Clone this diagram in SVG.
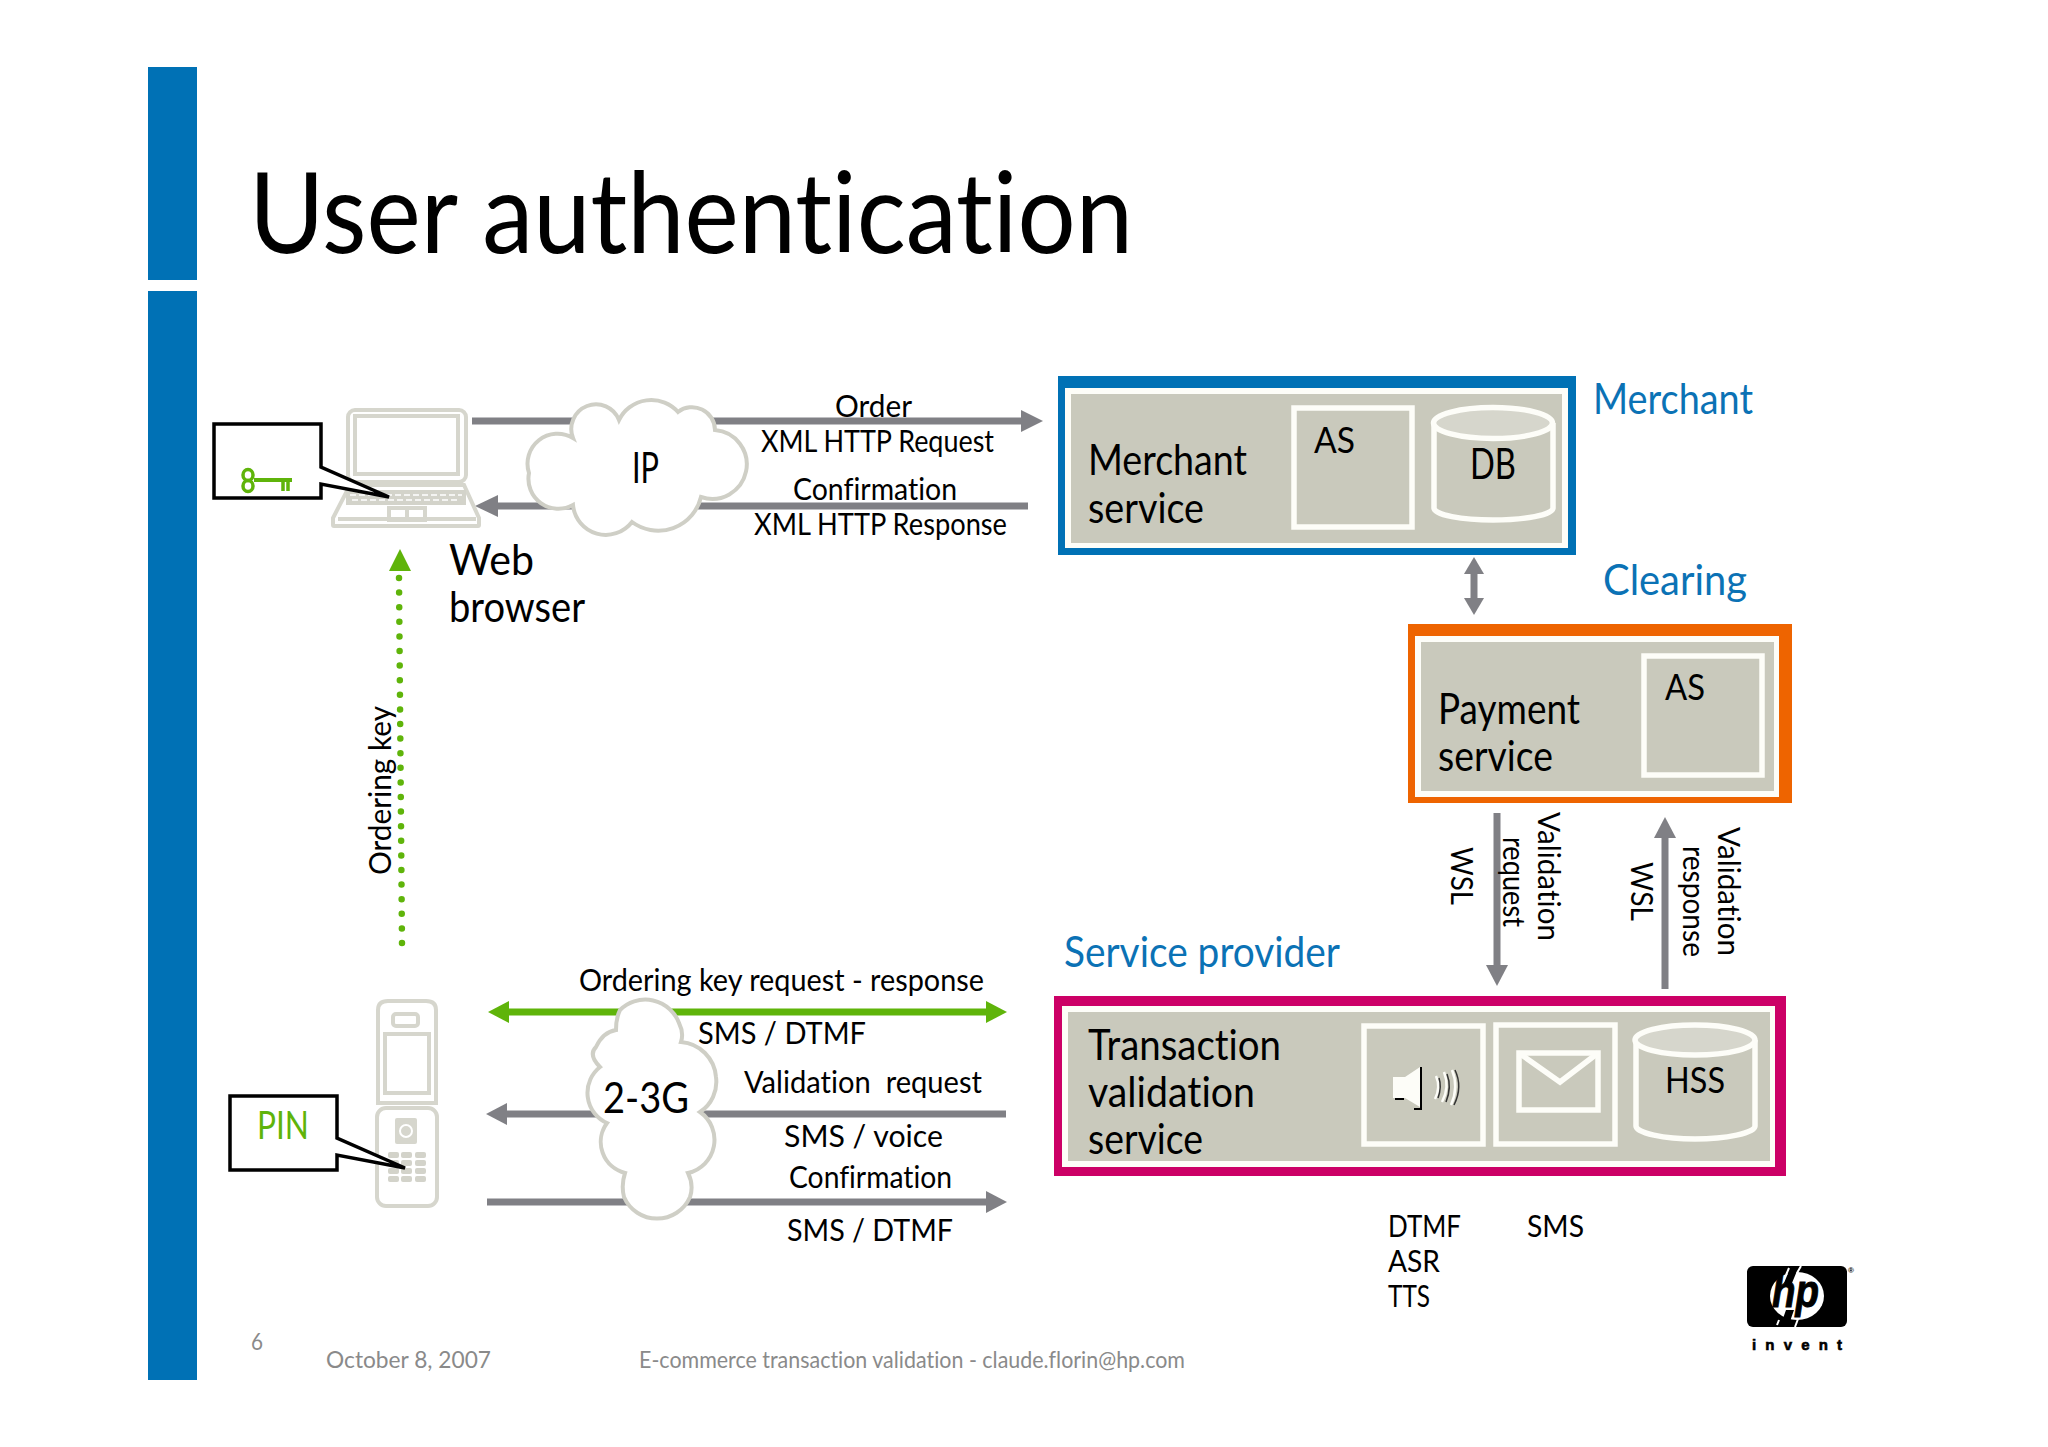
<svg xmlns="http://www.w3.org/2000/svg" width="2048" height="1447" viewBox="0 0 2048 1447">
<style>
text{font-family:"Lato","Liberation Sans",sans-serif;fill:#000;font-weight:400;font-variant-ligatures:none}
.l{font-size:31px}.m{font-size:42px}.s{font-size:36px}
.b{fill:#0b72b5;font-size:42px}
.f{fill:#8a8a8a;font-size:24px}
.g{fill:#c9c9bc}
.w{fill:none;stroke:#fdfdf8;stroke-width:5.5}
.d{fill:none;stroke:#d6d6cd;stroke-width:4}
.df{fill:#d3d3ca}
.a{fill:#808085}
.ln{stroke:#808085;stroke-width:7;fill:none}
.call{fill:#fff;stroke:#000;stroke-width:3.5}
.cloud{fill:#fff;stroke:#cfcfc6;stroke-width:4}
.logo{font-family:"Liberation Sans",sans-serif;font-weight:700}
</style>
<rect width="2048" height="1447" fill="#fff"/>
<g id="sidebar">
<rect x="148" y="67" width="49" height="213" fill="#0071b5"/>
<rect x="148" y="291" width="49" height="1089" fill="#0071b5"/>
</g>
<text id="title" x="249" y="253" font-size="112" textLength="884" lengthAdjust="spacingAndGlyphs">User authentication</text>

<g id="connectors">
<path class="ln" d="M472 421H1024"/><path class="a" d="M1043 421l-22 -11v22z"/>
<path class="ln" d="M496 506H1028"/><path class="a" d="M475 506l23 -11v22z"/>
<path d="M505 1012H990" stroke="#5fb40a" stroke-width="7" fill="none"/><path fill="#5fb40a" d="M488 1012l21 -11v22z"/><path fill="#5fb40a" d="M1007 1012l-21 -11v22z"/>
<path class="ln" d="M505 1114H1006"/><path class="a" d="M486 1114l21 -11v22z"/>
<path class="ln" d="M487 1202H988"/><path class="a" d="M1007 1202l-21 -11v22z"/>
<path d="M399 578L402 945" stroke="#5fb40a" stroke-width="6.5" stroke-linecap="round" stroke-dasharray="0 14.6" fill="none"/><path fill="#5fb40a" d="M400 549l11 22h-22z"/>
<path class="ln" d="M1474 570V602"/><path class="a" d="M1474 557l10 17h-20z"/><path class="a" d="M1474 615l10 -17h-20z"/>
<path class="ln" d="M1497 813V968"/><path class="a" d="M1497 986l11 -21h-22z"/>
<path class="ln" d="M1665 836V989"/><path class="a" d="M1665 817l11 21h-22z"/>
</g>

<g id="laptop">
<rect class="d" x="348" y="410" width="118" height="72" rx="7"/>
<rect class="d" x="355" y="416" width="103" height="58"/>
<path class="d" d="M350 485H464L479 518V525Q479 526 478 526H334Q333 526 333 525V518Z"/>
<rect class="df" x="346" y="490" width="120" height="15"/>
<path d="M350 495H462M352 500H460" stroke="#fff" stroke-width="1.500" stroke-dasharray="6 3" fill="none"/>
<rect class="d" x="389" y="508" width="36" height="12"/>
<path class="d" d="M407 508V520"/>
<path class="d" d="M338 519H476" stroke-width="2"/>
</g>
<g id="key-callout">
<path class="call" d="M214 424H321V467L389 497L321 484V498H214Z"/>
<g fill="none" stroke="#5fb40a">
<ellipse cx="248" cy="475" rx="5" ry="5.500" stroke-width="3.500"/><ellipse cx="248" cy="486" rx="5" ry="5.500" stroke-width="3.500"/>
<path d="M254 480H292" stroke-width="4"/><path d="M283 481V491M288 481V491" stroke-width="3.500"/>
</g>
</g>
<g id="ip-cloud">
<path class="cloud" d="M573 438A24 24 0 0 1 619 420A36 36 0 0 1 678 412A23 23 0 0 1 715 430A34.500 34.500 0 1 1 701 497A44 44 0 0 1 632 522A33 33 0 0 1 573 505A30 30 0 0 1 529 473A30 30 0 0 1 573 438Z"/>
<text x="632" y="483" font-size="42" textLength="27" lengthAdjust="spacingAndGlyphs">IP</text>
</g>
<g id="web-browser-label">
<text class="m" x="449" y="575" textLength="85" lengthAdjust="spacingAndGlyphs">Web</text>
<text class="m" x="449" y="622" textLength="136" lengthAdjust="spacingAndGlyphs">browser</text>
</g>
<g id="top-labels">
<text class="l" x="835" y="417" font-size="30" textLength="77" lengthAdjust="spacingAndGlyphs">Order</text>
<text class="l" x="761" y="452" textLength="233" lengthAdjust="spacingAndGlyphs">XML HTTP Request</text>
<text class="l" x="793" y="500" textLength="164" lengthAdjust="spacingAndGlyphs">Confirmation</text>
<text class="l" x="754" y="535" textLength="253" lengthAdjust="spacingAndGlyphs">XML HTTP Response</text>
</g>

<g id="merchant">
<rect x="1058" y="376" width="518" height="179" fill="#0071b5"/>
<rect x="1065" y="388" width="503" height="160" fill="#fdfdf8"/>
<rect class="g" x="1071" y="394" width="491" height="149"/>
<rect class="w" x="1294" y="408" width="118" height="119"/>
<path class="w" d="M1434 423V508C1434 515 1462 520 1493 520S1553 515 1553 508V423"/>
<ellipse cx="1493" cy="423" rx="59.500" ry="15.500" fill="#d6d6cc" stroke="#fdfdf8" stroke-width="5.500"/>
<text class="m" x="1088" y="475" textLength="159" lengthAdjust="spacingAndGlyphs">Merchant</text>
<text class="m" x="1088" y="523" textLength="116" lengthAdjust="spacingAndGlyphs">service</text>
<text class="s" x="1314" y="453" textLength="41" lengthAdjust="spacingAndGlyphs">AS</text>
<text class="m" x="1470" y="479" textLength="46" lengthAdjust="spacingAndGlyphs">DB</text>
</g>
<text id="merchant-label" class="b" x="1593" y="414" textLength="160" lengthAdjust="spacingAndGlyphs">Merchant</text>
<text id="clearing-label" class="b" x="1603" y="595" textLength="144" lengthAdjust="spacingAndGlyphs">Clearing</text>

<g id="payment">
<rect x="1408" y="624" width="384" height="179" fill="#ee6400"/>
<rect x="1415" y="636" width="364" height="161" fill="#fdfdf8"/>
<rect class="g" x="1421" y="642" width="353" height="149"/>
<rect class="w" x="1644" y="656" width="118" height="119"/>
<text class="m" x="1438" y="724" textLength="142" lengthAdjust="spacingAndGlyphs">Payment</text>
<text class="m" x="1438" y="771" textLength="115" lengthAdjust="spacingAndGlyphs">service</text>
<text class="s" x="1665" y="700" textLength="40" lengthAdjust="spacingAndGlyphs">AS</text>
</g>

<g id="wsl-labels">
<text class="l" transform="translate(1451 847) rotate(90)" textLength="58" lengthAdjust="spacingAndGlyphs">WSL</text>
<text class="l" transform="translate(1503 837) rotate(90)" textLength="90" lengthAdjust="spacingAndGlyphs">request</text>
<text class="l" transform="translate(1538 812) rotate(90)" textLength="129" lengthAdjust="spacingAndGlyphs">Validation</text>
<text class="l" transform="translate(1631 862) rotate(90)" textLength="59" lengthAdjust="spacingAndGlyphs">WSL</text>
<text class="l" transform="translate(1683 846) rotate(90)" textLength="111" lengthAdjust="spacingAndGlyphs">response</text>
<text class="l" transform="translate(1718 827) rotate(90)" textLength="129" lengthAdjust="spacingAndGlyphs">Validation</text>
</g>

<text id="sp-label" class="b" x="1064" y="967" textLength="276" lengthAdjust="spacingAndGlyphs">Service provider</text>
<g id="service-provider">
<rect x="1054" y="996" width="732" height="180" fill="#cc0066"/>
<rect x="1062" y="1006" width="713" height="161" fill="#fdfdf8"/>
<rect class="g" x="1068" y="1012" width="702" height="149"/>
<rect class="w" x="1364" y="1026" width="119" height="118"/>
<rect class="w" x="1496" y="1025" width="119" height="119"/>
<rect class="w" x="1519" y="1053" width="79" height="57"/>
<path class="w" d="M1519 1053L1560 1082L1598 1053"/>
<path class="w" d="M1636 1040V1126C1636 1133 1664 1139 1695 1139S1755 1133 1755 1126V1040"/>
<ellipse cx="1695" cy="1040" rx="60" ry="15" fill="#d6d6cc" stroke="#fdfdf8" stroke-width="5.500"/>
<path fill="#fdfdf8" d="M1393 1077H1405L1420 1067V1107L1405 1098H1393Z"/>
<path d="M1421 1067V1109H1414M1395 1099H1404" fill="none" stroke="#000" stroke-width="2"/>
<path d="M1436 1076Q1441 1087 1435 1099M1444 1072Q1450 1087 1442 1102M1452 1070Q1459 1087 1451 1105" fill="none" stroke="#fdfdf8" stroke-width="2.500"/>
<path d="M1439 1078Q1442 1087 1438 1098M1447 1074Q1452 1087 1446 1102M1455 1070Q1463 1087 1454 1105" fill="none" stroke="#333" stroke-width="1.500"/>
<text class="m" x="1088" y="1060" textLength="193" lengthAdjust="spacingAndGlyphs">Transaction</text>
<text class="m" x="1088" y="1107" textLength="167" lengthAdjust="spacingAndGlyphs">validation</text>
<text class="m" x="1088" y="1154" textLength="115" lengthAdjust="spacingAndGlyphs">service</text>
<text class="s" x="1665" y="1093" textLength="60" lengthAdjust="spacingAndGlyphs">HSS</text>
</g>

<g id="phone">
<path class="d" d="M378 1103V1010Q378 1001 388 1001H426Q436 1001 436 1010V1103Z" stroke-width="4.500"/>
<rect class="d" x="385" y="1034" width="44" height="59"/>
<rect class="d" x="393" y="1014" width="25" height="12" rx="3"/>
<rect class="d" x="377" y="1108" width="60" height="98" rx="9" stroke-width="4.500"/>
<rect fill="#d6d6cd" x="395" y="1118" width="22" height="26" rx="2"/>
<circle fill="none" stroke="#fff" stroke-width="2" cx="406" cy="1131" r="6"/>
<g class="df">
<rect x="388" y="1152" width="11" height="6" rx="2"/><rect x="401" y="1152" width="11" height="6" rx="2"/><rect x="415" y="1152" width="11" height="6" rx="2"/>
<rect x="388" y="1160" width="11" height="6" rx="2"/><rect x="401" y="1160" width="11" height="6" rx="2"/><rect x="415" y="1160" width="11" height="6" rx="2"/>
<rect x="388" y="1168" width="11" height="6" rx="2"/><rect x="401" y="1168" width="11" height="6" rx="2"/><rect x="415" y="1168" width="11" height="6" rx="2"/>
<rect x="388" y="1176" width="11" height="6" rx="2"/><rect x="401" y="1176" width="11" height="6" rx="2"/><rect x="415" y="1176" width="11" height="6" rx="2"/>
</g>
</g>
<g id="pin-callout">
<path class="call" d="M230 1096H337V1138L405 1168L337 1155V1170H230Z"/>
<text x="257" y="1139" font-size="38" style="fill:#5fb40a" textLength="52" lengthAdjust="spacingAndGlyphs">PIN</text>
</g>
<g id="cloud-2-3g">
<path class="cloud" d="M620 1010A36 36 0 0 1 679 1023Q684 1033 681 1042A38 38 0 0 1 716 1077A36 36 0 0 1 700 1112A34 34 0 0 1 688 1173Q694 1185 690 1197A36 36 0 0 1 624 1197Q621 1185 625 1173A32 32 0 0 1 607 1123A33 33 0 0 1 600 1067Q588 1055 596 1047Q603 1032 616 1030Q616 1018 620 1010Z"/>
<text x="603" y="1113" font-size="43" textLength="86" lengthAdjust="spacingAndGlyphs">2-3G</text>
</g>
<g id="bottom-labels">
<text class="l" x="579" y="991" textLength="405" lengthAdjust="spacingAndGlyphs">Ordering key request - response</text>
<text class="l" x="698" y="1044" textLength="168" lengthAdjust="spacingAndGlyphs">SMS / DTMF</text>
<text class="l" x="744" y="1093" textLength="238" lengthAdjust="spacingAndGlyphs" xml:space="preserve">Validation  request</text>
<text class="l" x="784" y="1147" textLength="159" lengthAdjust="spacingAndGlyphs">SMS / voice</text>
<text class="l" x="789" y="1188" textLength="163" lengthAdjust="spacingAndGlyphs">Confirmation</text>
<text class="l" x="787" y="1241" textLength="166" lengthAdjust="spacingAndGlyphs">SMS / DTMF</text>
<text class="l" transform="translate(391 875) rotate(-90)" textLength="169" lengthAdjust="spacingAndGlyphs">Ordering key</text>
<text class="l" x="1388" y="1237" textLength="73" lengthAdjust="spacingAndGlyphs">DTMF</text>
<text class="l" x="1388" y="1272" textLength="52" lengthAdjust="spacingAndGlyphs">ASR</text>
<text class="l" x="1388" y="1307" textLength="42" lengthAdjust="spacingAndGlyphs">TTS</text>
<text class="l" x="1527" y="1237" textLength="57" lengthAdjust="spacingAndGlyphs">SMS</text>
</g>
<g id="footer">
<text class="f" x="251" y="1350" textLength="12" lengthAdjust="spacingAndGlyphs">6</text>
<text class="f" x="326" y="1368" textLength="165" lengthAdjust="spacingAndGlyphs">October 8, 2007</text>
<text class="f" x="639" y="1368" textLength="546" lengthAdjust="spacingAndGlyphs">E-commerce transaction validation - claude.florin@hp.com</text>
</g>
<g id="hp-logo">
<rect x="1747" y="1266" width="100" height="61" rx="6" fill="#000"/>
<ellipse cx="1797" cy="1296" rx="27" ry="24" fill="#fff"/>
<path d="M1784 1283L1791 1266H1799L1792 1283ZM1786 1310L1780 1327H1788L1794 1310Z" fill="#000"/>
<text class="logo" x="1772" y="1307" font-size="46" stroke="#000" stroke-width="1" style="font-style:italic" textLength="47" lengthAdjust="spacingAndGlyphs">hp</text>
<path d="M1801 1266L1797 1273M1789 1268L1786 1275M1795 1327L1798 1319M1779 1320L1777 1325" stroke="#fff" stroke-width="2"/>
<text class="logo" x="1752" y="1350" font-size="15" stroke="#000" stroke-width=".6" textLength="90" lengthAdjust="spacing">invent</text>
<text class="logo" x="1848" y="1273" font-size="8">®</text>
</g>
</svg>
